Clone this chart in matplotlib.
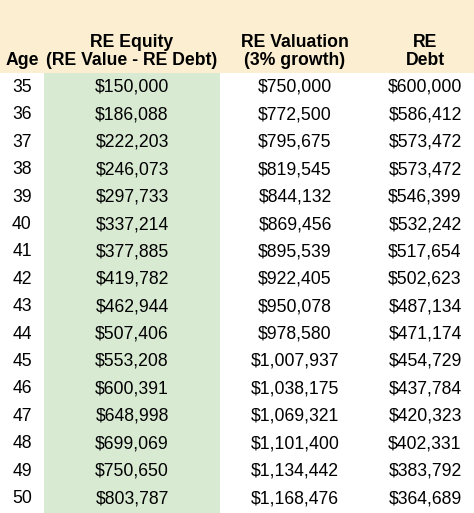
import matplotlib
matplotlib.use("Agg")
import matplotlib.pyplot as plt
from matplotlib.patches import Rectangle

ages = list(range(35, 51))
equity = ["$150,000","$186,088","$222,203","$246,073","$297,733","$337,214","$377,885","$419,782",
          "$462,944","$507,406","$553,208","$600,391","$648,998","$699,069","$750,650","$803,787"]
valuation = ["$750,000","$772,500","$795,675","$819,545","$844,132","$869,456","$895,539","$922,405",
             "$950,078","$978,580","$1,007,937","$1,038,175","$1,069,321","$1,101,400","$1,134,442","$1,168,476"]
debt = ["$600,000","$586,412","$573,472","$573,472","$546,399","$532,242","$517,654","$502,623",
        "$487,134","$471,174","$454,729","$437,784","$420,323","$402,331","$383,792","$364,689"]
headers = ["Age", "RE Equity\n(RE Value - RE Debt)", "RE Valuation\n(3% growth)", "RE\nDebt"]

W, H = 474, 513
fig = plt.figure(figsize=(W/100, H/100), dpi=100)
ax = fig.add_axes([0, 0, 1, 1])
ax.set_xlim(0, W); ax.set_ylim(H, 0); ax.axis("off")
plt.rcParams['font.family'] = ['Liberation Sans', 'DejaVu Sans']

ax.add_patch(Rectangle((0, 0), W, 73, color="#fcefd1", lw=0))
ax.add_patch(Rectangle((44, 73), 176, H-73, color="#d9ead3", lw=0))

xs = [22, 132, 295, 425]
fs = 12.7
for x, h in zip(xs, headers):
    ax.text(x, 69, h, ha="center", va="bottom", fontsize=fs, fontweight="bold", linespacing=1.1)
y0, dy = 87.5, 27.4
for i, a in enumerate(ages):
    y = y0 + i*dy
    for x, t in zip(xs, [str(a), equity[i], valuation[i], debt[i]]):
        ax.text(x, y, t, ha="center", va="center", fontsize=fs)
fig.savefig("out.png", dpi=100)
